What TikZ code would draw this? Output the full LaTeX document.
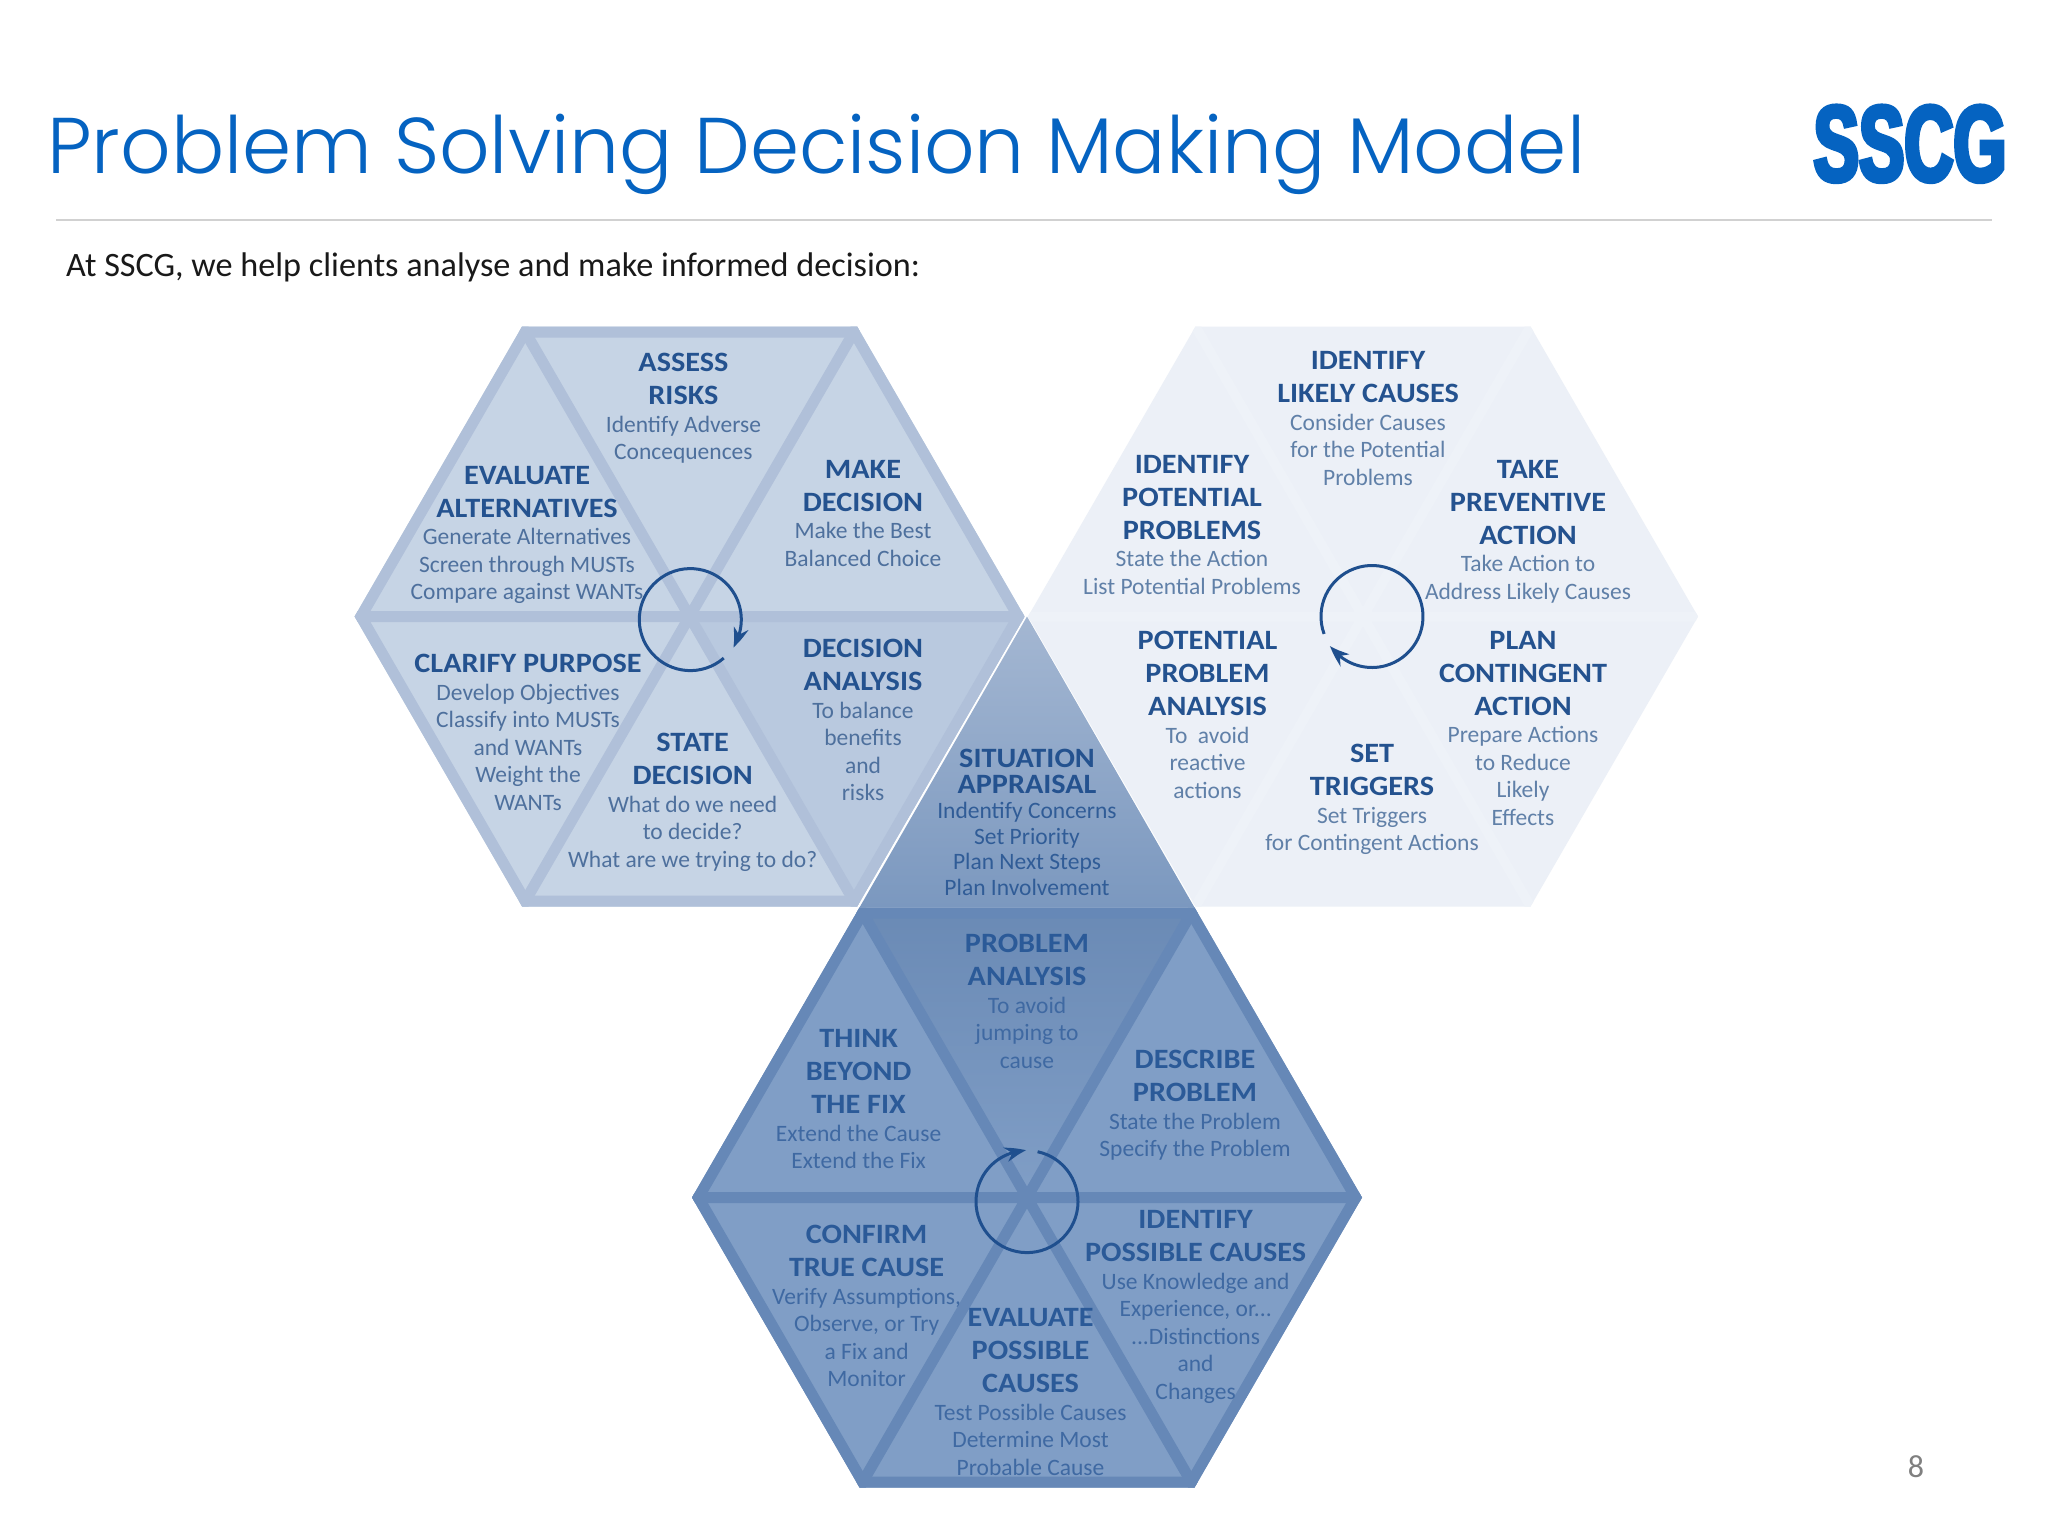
\documentclass[tikz,border=0pt]{standalone}
\usepackage{fontspec}
\usepackage{graphicx}
\setmainfont[BoldFeatures={FakeStretch=1.08}]{Carlito}
\newfontfamily\titlefont{Poppins Light}
\newfontfamily\logofont[BoldFeatures={FakeStretch=0.63,FakeBold=4}]{Liberation Sans}
\usetikzlibrary{arrows.meta,bending}
\definecolor{lframe}{HTML}{B0C0D9}
\definecolor{ltri}{HTML}{C6D4E5}
\definecolor{ltrid}{HTML}{B9C9DF}
\definecolor{rfill}{HTML}{ECF0F7}
\definecolor{rframe}{HTML}{EEF2F8}
\definecolor{bframe}{HTML}{6688B7}
\definecolor{btri}{HTML}{809EC6}
\definecolor{btop}{HTML}{6A8AB5}
\definecolor{sapex}{HTML}{A4B7D2}
\definecolor{sbase}{HTML}{7B98BF}
\definecolor{headblue}{HTML}{24528F}
\definecolor{lbody}{HTML}{4E709D}
\definecolor{rbody}{HTML}{6080A8}
\definecolor{bhead}{HTML}{2B5A98}
\definecolor{bbody}{HTML}{3F69A2}
\definecolor{arrowblue}{HTML}{1F4F8E}
\definecolor{brand}{HTML}{0563C1}
\newcommand{\hdg}[1]{{\fontsize{28}{28}\selectfont\bfseries\color{headblue}#1}}
\newcommand{\hdgb}[1]{{\fontsize{28}{28}\selectfont\bfseries\color{bhead}#1}}
\def\hexo{(335,0)--(167.5,290)--(-167.5,290)--(-335,0)--(-167.5,-290)--(167.5,-290)--cycle}
\def\spokes{(335,0)--(-335,0) (167.5,290)--(-167.5,-290) (-167.5,290)--(167.5,-290)}
\tikzset{
  blocktext/.style={anchor=north,align=center,inner sep=0pt,font=\fontsize{23.5}{27.5}\selectfont},
  ltext/.style={blocktext,text=lbody},
  rtext/.style={blocktext,text=rbody},
  btext/.style={blocktext,text=bbody},
  cyc/.style={draw=arrowblue,line width=3pt,-{Stealth[length=21pt,width=15pt,bend]}},
}
\begin{document}
\begin{tikzpicture}[x=1pt,y=-1pt]
\useasboundingbox (0,0) rectangle (2048,1536);
\fill[white] (0,0) rectangle (2048,1536);

% header
\node[anchor=base west,inner sep=0pt,text=brand] (title) at (47,173) {\titlefont\fontsize{79}{79}\selectfont Problem Solving Decision Making Model};
\node[anchor=base,inner sep=0pt,text=brand] (logo) at (1910,181) {\logofont\bfseries\fontsize{108}{108}\selectfont SSCG};
\draw[draw=black!18,line width=2.5pt] (56,220) -- (1992,220);
\node[anchor=base west,inner sep=0pt,text=black!90] (intro) at (66,276) {\fontsize{34.2}{34.2}\selectfont At SSCG, we help clients analyse and make informed decision:};
\node[anchor=base,inner sep=0pt,text=black!50] (pageno) at (1916,1477) {\fontsize{32}{32}\selectfont 8};

% right hexagon
\begin{scope}[shift={(1363,616.5)}]
  \fill[rfill] \hexo;
  \begin{scope}
    \clip \hexo;
    \draw[rframe,line width=10pt] \spokes;
  \end{scope}
\end{scope}

% left hexagon
\begin{scope}[shift={(689.6,616.5)}]
  \fill[ltri] \hexo;
  \fill[ltrid] (0,0) -- (335,0) -- (167.5,290) -- cycle;
  \begin{scope}
    \clip \hexo;
    \draw[lframe,line width=22pt,miter limit=10] \hexo;
    \draw[lframe,line width=11pt] \spokes;
  \end{scope}
\end{scope}

% bottom hexagon
\begin{scope}[shift={(1027,1197.5)}]
  \fill[btri] \hexo;
  \shade[top color=btop,bottom color=btri] (0,0) -- (167.5,-290) -- (-167.5,-290) -- cycle;
  \begin{scope}
    \clip \hexo;
    \draw[bframe,line width=22pt,miter limit=10] \hexo;
    \draw[bframe,line width=11pt] \spokes;
  \end{scope}
\end{scope}

% situation appraisal triangle
\shade[top color=sapex,bottom color=sbase] (1027,616.5) -- (1194.5,907.5) -- (859.5,907.5) -- cycle;

% cycle arrows
\coordinate (lc) at (690.3,619.6);
\coordinate (rc) at (1372,616.5);
\coordinate (bc) at (1027,1201.6);
\draw[cyc] (lc) ++(-49:51pt) arc[start angle=-49,end angle=-393,radius=51pt];
\draw[cyc] (rc) ++(200:51pt) arc[start angle=200,end angle=-145,radius=51pt];
\draw[cyc] (bc) ++(78:51pt) arc[start angle=78,end angle=-269,radius=51pt];

% left hexagon texts
\node[ltext] (assess) at (683.4,353) {\hdg{ASSESS}\\[5.5pt]\hdg{RISKS}\\Identify Adverse\\Concequences};
\node[ltext] (evalalt) at (527,466) {\hdg{EVALUATE}\\[5.5pt]\hdg{ALTERNATIVES}\\Generate Alternatives\\Screen through MUSTs\\Compare against WANTs};
\node[ltext] (makedec) at (863,460) {\hdg{MAKE}\\[5.5pt]\hdg{DECISION}\\Make the Best\\Balanced Choice};
\node[ltext] (decana) at (863,639) {\hdg{DECISION}\\[5.5pt]\hdg{ANALYSIS}\\To balance\\benefits\\and\\risks};
\node[ltext] (clarify) at (528,654) {\hdg{CLARIFY PURPOSE}\\Develop Objectives\\Classify into MUSTs\\and WANTs\\Weight the\\WANTs};
\node[ltext] (statedec) at (692.6,733) {\hdg{STATE}\\[5.5pt]\hdg{DECISION}\\What do we need\\to decide?\\What are we trying to do?};

% right hexagon texts
\node[rtext] (likely) at (1368,351.5) {\hdg{IDENTIFY}\\[5.5pt]\hdg{LIKELY CAUSES}\\Consider Causes\\for the Potential\\Problems};
\node[rtext] (potprob) at (1192,455) {\hdg{IDENTIFY}\\[5.5pt]\hdg{POTENTIAL}\\[5.5pt]\hdg{PROBLEMS}\\State the Action\\List Potential Problems};
\node[rtext] (prevent) at (1528,460) {\hdg{TAKE}\\[5.5pt]\hdg{PREVENTIVE}\\[5.5pt]\hdg{ACTION}\\Take Action to\\Address Likely Causes};
\node[rtext] (ppa) at (1207.5,631) {\hdg{POTENTIAL}\\[5.5pt]\hdg{PROBLEM}\\[5.5pt]\hdg{ANALYSIS}\\To~~avoid\\reactive\\actions};
\node[rtext] (plan) at (1523,631) {\hdg{PLAN}\\[5.5pt]\hdg{CONTINGENT}\\[5.5pt]\hdg{ACTION}\\Prepare Actions\\to Reduce\\Likely\\Effects};
\node[rtext] (triggers) at (1372,744) {\hdg{SET}\\[5.5pt]\hdg{TRIGGERS}\\Set Triggers\\for Contingent Actions};

% situation appraisal text
\node[btext,text=headblue!55!bbody,font=\fontsize{23.5}{25.6}\selectfont] (situation) at (1027,749) {\hdg{SITUATION}\\\hdg{APPRAISAL}\\Indentify Concerns\\Set Priority\\Plan Next Steps\\Plan Involvement};

% bottom hexagon texts
\node[btext] (probana) at (1027,934) {\hdgb{PROBLEM}\\[5.5pt]\hdgb{ANALYSIS}\\To avoid\\jumping to\\cause};
\node[btext] (think) at (858.6,1029.6) {\hdgb{THINK}\\[5.5pt]\hdgb{BEYOND}\\[5.5pt]\hdgb{THE FIX}\\Extend the Cause\\Extend the Fix};
\node[btext] (describe) at (1195,1050) {\hdgb{DESCRIBE}\\[5.5pt]\hdgb{PROBLEM}\\State the Problem\\Specify the Problem};
\node[btext] (possible) at (1195.6,1210.5) {\hdgb{IDENTIFY}\\[5.5pt]\hdgb{POSSIBLE CAUSES}\\Use Knowledge and\\Experience, or...\\...Distinctions\\and\\Changes};
\node[btext] (confirm) at (866.6,1225) {\hdgb{CONFIRM}\\[5.5pt]\hdgb{TRUE CAUSE}\\Verify Assumptions,\\Observe, or Try\\a Fix and\\Monitor};
\node[btext] (evalpos) at (1030.5,1308.6) {\hdgb{EVALUATE}\\[5.5pt]\hdgb{POSSIBLE}\\[5.5pt]\hdgb{CAUSES}\\Test Possible Causes\\Determine Most\\Probable Cause};
\end{tikzpicture}
\end{document}
